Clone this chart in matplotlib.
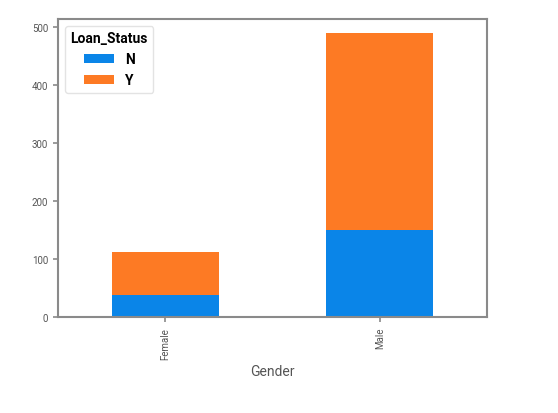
import matplotlib
matplotlib.use("Agg")
import matplotlib.pyplot as plt
import numpy as np

plt.rcParams['font.family'] = ['Roboto', 'DejaVu Sans']

genders = ["Female", "Male"]
status_labels = ["N", "Y"]
n_counts = [37, 150]
y_counts = [75, 339]

blue = "#0a85e8"
orange = "#fd7a24"
gray = "#8a8a8a"

fig = plt.figure(figsize=(5.58, 4.14), dpi=100)
ax = fig.add_axes([0.104, 0.232, 0.769, 0.72])

x = np.arange(len(genders))
ax.bar(x, n_counts, width=0.5, color=blue, label=status_labels[0])
ax.bar(x, y_counts, width=0.5, bottom=n_counts, color=orange, label=status_labels[1])

ax.set_xlim(-0.5, 1.5)
tot = max(a + b for a, b in zip(n_counts, y_counts))
ax.set_ylim(0, tot * 1.05)
ax.set_yticks([0, 100, 200, 300, 400, 500])
ax.set_xticks(x)
ax.set_xticklabels(genders, rotation=90)
ax.tick_params(colors=gray, labelsize=7, labelcolor="#555555", width=1.2)
for s in ax.spines.values():
    s.set_color(gray)
    s.set_linewidth(1.5)
ax.set_xlabel("Gender", fontsize=10, color="#555555")

leg = ax.legend(title="Loan_Status", loc="upper left", fontsize=10,
                title_fontproperties={'weight': 'bold', 'size': 10},
                frameon=True, handlelength=2.2)
leg.get_frame().set_edgecolor("#dddddd")
for t in leg.get_texts():
    t.set_fontweight("bold")

fig.savefig("out.png", dpi=100)
